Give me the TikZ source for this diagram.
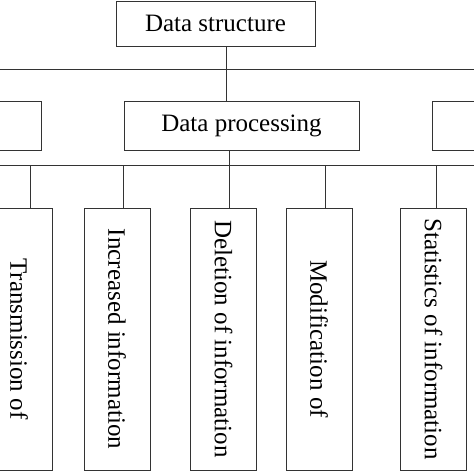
\documentclass[tikz,border=0pt]{standalone}
\usepackage{fontspec}
\setmainfont{Liberation Serif}
\usepackage{graphicx}
\begin{document}
\begin{tikzpicture}[x=1pt,y=-1pt,
        line width=1pt, draw=black!80,
        box/.style={draw, inner sep=0pt, font=\fontsize{25}{30}\selectfont},
        head/.style={box, minimum width=199pt, minimum height=45pt},
        mid/.style={box, minimum width=235pt, minimum height=49pt},
        leaf/.style={box, minimum width=66pt, minimum height=262pt}]
        \useasboundingbox (0,0) rectangle (474,474);
        \clip (0,0) rectangle (474,474);
        % top level
        \node[head] (ds) at (215.5,23.5) {Data structure};
        \coordinate (busA) at (0,69);
        \coordinate (busB) at (474,69);
        \draw (busA) -- (busB);
        % second level
        \node[mid] (dl) at (-76.5,125.5) {};
        \node[mid] (dp) at (241.5,125.5) {Data processing};
        \node[mid] (dr) at (549.5,125.5) {};
        \draw ([xshift=10.5pt]ds.south) -- ([xshift=-15.5pt]dp.north);
        \coordinate (busC) at (0,165);
        \coordinate (busD) at (474,165);
        \draw (busC) -- (busD);
        \draw ([xshift=-12.5pt]dp.south) -- ++(0,15);
        % third level
        \node[leaf] (tra) at (19,339) {\rotatebox{-90}{Transmission of}};
        \node[leaf] (inc) at (117,339) {\rotatebox{-90}{Increased information}};
        \node[leaf] (del) at (223.5,339) {\rotatebox{-90}{Deletion of information}};
        \node[leaf] (mod) at (319,339) {\rotatebox{-90}{Modification of}};
        \node[leaf] (sta) at (433.5,339) {\rotatebox{-90}{Statistics of information}};
        \draw ([xshift=11pt]tra.north) -- ++(0,-43);
        \draw ([xshift=6pt]inc.north) -- ++(0,-43);
        \draw ([xshift=5.5pt]del.north) -- ++(0,-43);
        \draw ([xshift=6pt]mod.north) -- ++(0,-43);
        \draw ([xshift=2.5pt]sta.north) -- ++(0,-43);
    \end{tikzpicture}
\end{document}
